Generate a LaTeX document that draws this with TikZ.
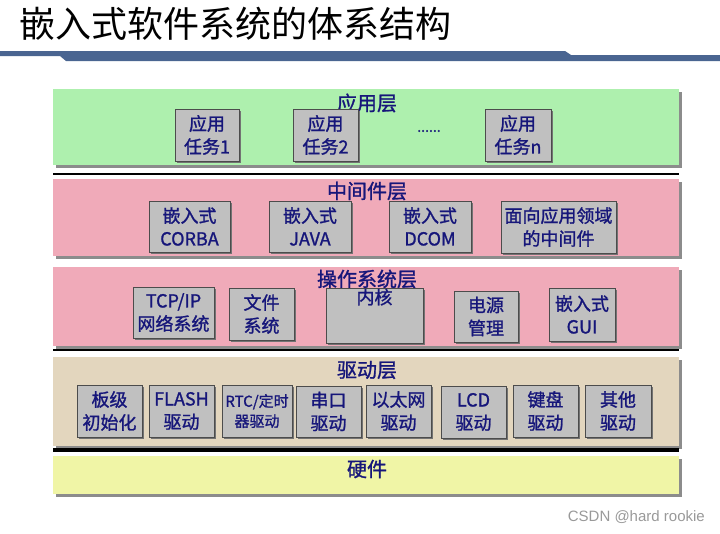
\documentclass[tikz,border=0pt]{standalone}
\usepackage{fontspec}
\setmainfont{Noto Sans CJK SC}
\newfontfamily\boxfont[FakeBold=1.2]{Noto Sans CJK SC}
\newfontfamily\wmfont{Liberation Sans}
\usetikzlibrary{shadows}

\definecolor{appgreen}{HTML}{AEF0AE}
\definecolor{midpink}{HTML}{F0AAB9}
\definecolor{drvtan}{HTML}{E3D6BE}
\definecolor{hwyellow}{HTML}{F0F5A6}
\definecolor{boxgray}{HTML}{C0C0C0}
\definecolor{navy}{HTML}{16167A}
\definecolor{barblue}{HTML}{4A6591}

\tikzset{
  tier/.style={fill=#1, minimum width=626pt, inner sep=0pt,
    drop shadow={shadow xshift=2.5pt, shadow yshift=-2.5pt, fill=black!45, opacity=1}},
  tiername/.style={text=navy, font=\boxfont\fontsize{20}{24}\selectfont, inner sep=0pt},
  modbox/.style={draw=black!70, line width=0.8pt, fill=boxgray, text=navy,
    align=center, inner sep=0pt, font=\boxfont\fontsize{18}{23}\selectfont,
    drop shadow={shadow xshift=2pt, shadow yshift=-2pt, fill=black!55, opacity=1}},
  sepline/.style={line width=#1, black},
}

\begin{document}
\begin{tikzpicture}[x=1pt, y=-1pt]
    \useasboundingbox (0,0) rectangle (720,533);

    % Title and title bar
    \node[anchor=west, font=\fontsize{36}{40}\selectfont, inner sep=0pt] (title) at (19,24) {嵌入式软件系统的体系结构};
    \fill[barblue] (0,51) -- (565,51) -- (571,55) -- (720,55) -- (720,61)
        -- (66,61) -- (60,56) -- (0,56) -- cycle;

    % Draw the five tiers
    \node[tier=appgreen, minimum height=76pt] (app) at (366,127) {};
    \node[tier=midpink, minimum height=77pt] (mid) at (366,217.5) {};
    \node[tier=midpink, minimum height=79pt] (os) at (366,306.5) {};
    \node[tier=drvtan, minimum height=89pt] (drv) at (366,401.5) {};
    \node[tier=hwyellow, minimum height=38pt] (hw) at (366,475) {};

    % Separator lines
    \draw[sepline=2pt] (53,174) -- (679,174);
    \draw[sepline=2.4pt] (53,350) -- (679,350);
    \draw[sepline=3.3pt] (53,450) -- (679,450);

    % Label the tiers
    \node[tiername] (appname) at (367,103) {应用层};
    \node[tiername] (midname) at (367,191) {中间件层};
    \node[tiername] (osname) at (367,279) {操作系统层};
    \node[tiername] (drvname) at (367,370) {驱动层};
    \node[tiername] (hwname) at (367,469) {硬件};

    % Application tasks
    \node[modbox, minimum width=64pt, minimum height=52pt] (task1) at (207,135) {应用\\任务1};
    \node[modbox, minimum width=65pt, minimum height=52pt] (task2) at (325.5,135) {应用\\任务2};
    \node[text=navy, font=\boxfont\fontsize{14}{16}\selectfont] (dots) at (429,131) {......};
    \node[modbox, minimum width=66pt, minimum height=52pt] (taskn) at (518,135) {应用\\任务n};

    % Middleware
    \node[modbox, minimum width=81pt, minimum height=51pt] (corba) at (189.5,226.5) {嵌入式\\CORBA};
    \node[modbox, minimum width=82pt, minimum height=51pt] (java) at (310,226.5) {嵌入式\\JAVA};
    \node[modbox, minimum width=82pt, minimum height=51pt] (dcom) at (430,226.5) {嵌入式\\DCOM};
    \node[modbox, minimum width=115pt, minimum height=52pt] (domain) at (558.5,227) {面向应用领域\\的中间件};

    % Operating system
    \node[modbox, minimum width=81pt, minimum height=51pt] (tcpip) at (173.5,312.5) {TCP/IP\\网络系统};
    \node[modbox, minimum width=65pt, minimum height=52pt] (fs) at (261.5,314) {文件\\系统};
    \node[modbox, minimum width=97pt, minimum height=55pt,
        label={[anchor=north, text=navy, font=\boxfont\fontsize{18}{20}\selectfont, inner sep=1pt]north:内核}] (kernel) at (374.5,315.5) {};
    \node[modbox, minimum width=64pt, minimum height=51pt] (power) at (486,316.5) {电源\\管理};
    \node[modbox, minimum width=66pt, minimum height=53pt] (gui) at (582,314.5) {嵌入式\\GUI};

    % Drivers
    \node[modbox, minimum width=65pt, minimum height=52pt] (bsp) at (109.5,411) {板级\\初始化};
    \node[modbox, minimum width=65pt, minimum height=52pt] (flash) at (181.5,411) {FLASH\\驱动};
    \node[modbox, minimum width=70pt, minimum height=52pt, font=\boxfont\fontsize{15}{20}\selectfont] (rtc) at (257,411) {RTC/定时\\器驱动};
    \node[modbox, minimum width=65pt, minimum height=51pt] (uart) at (328.5,411.5) {串口\\驱动};
    \node[modbox, minimum width=65pt, minimum height=52pt] (eth) at (398.5,411) {以太网\\驱动};
    \node[modbox, minimum width=65pt, minimum height=52pt] (lcd) at (473.5,412) {LCD\\驱动};
    \node[modbox, minimum width=65pt, minimum height=52pt] (kbd) at (545.5,411) {键盘\\驱动};
    \node[modbox, minimum width=66pt, minimum height=52pt] (other) at (618,411) {其他\\驱动};

    % Watermark
    \node[anchor=east, text=black!40, font=\wmfont\fontsize{15}{18}\selectfont, inner sep=0pt] (mark) at (705,517) {CSDN @hard rookie};
\end{tikzpicture}
\end{document}
